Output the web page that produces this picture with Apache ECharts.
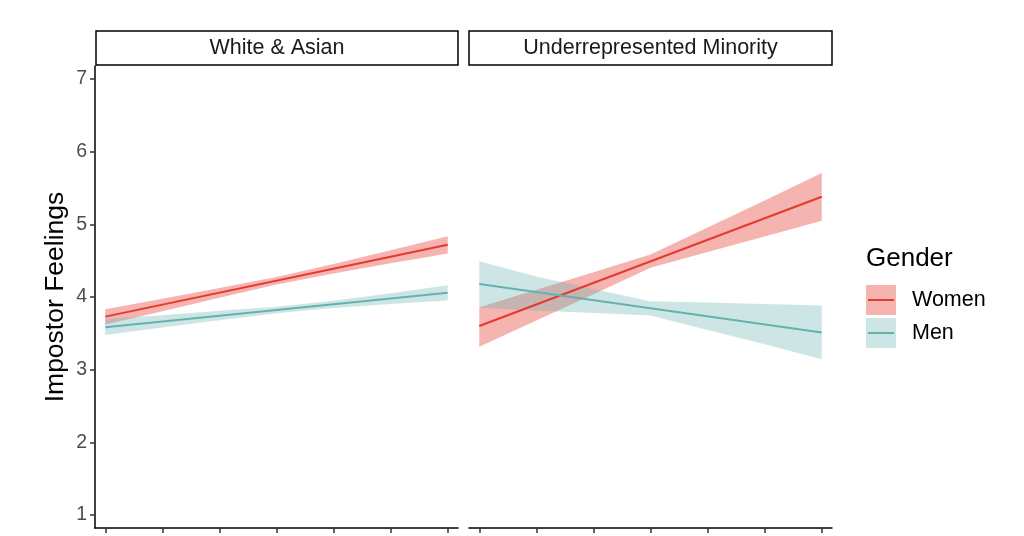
<!DOCTYPE html>
<html>
<head>
<meta charset="utf-8">
<script src="https://cdn.jsdelivr.net/npm/echarts@6/dist/echarts.min.js"></script>
<style>
html,body{margin:0;padding:0;background:#fff;}
#chart{width:1024px;height:536px;}
</style>
</head>
<body>
<div id="chart"></div>
<script>
// ---- data ----
const panels = ['White & Asian', 'Underrepresented Minority'];
const genders = ['Women', 'Men'];
const xTicks = [1, 2, 3, 4, 5, 6, 7];
const yTicks = [1, 2, 3, 4, 5, 6, 7];

// fitted lines (endpoints at x = 1 and x = 7)
const lineX = [1, 7];
const waWomenLine = [3.73, 4.72];
const waMenLine = [3.585, 4.06];
const urmWomenLine = [3.60, 5.38];
const urmMenLine = [4.18, 3.51];

// confidence ribbons at x = 1..7
const waWomenUpper = [3.83, 3.975, 4.125, 4.275, 4.455, 4.645, 4.835];
const waWomenLower = [3.62, 3.805, 3.99, 4.172, 4.325, 4.463, 4.60];
const waMenUpper = [3.70, 3.75, 3.81, 3.865, 3.95, 4.05, 4.162];
const waMenLower = [3.476, 3.58, 3.68, 3.778, 3.85, 3.905, 3.952];
const urmWomenUpper = [3.86, 4.10, 4.34, 4.584, 4.957, 5.33, 5.706];
const urmWomenLower = [3.316, 3.677, 4.039, 4.401, 4.618, 4.834, 5.05];
const urmMenUpper = [4.492, 4.282, 4.11, 3.943, 3.925, 3.904, 3.883];
const urmMenLower = [3.852, 3.815, 3.78, 3.746, 3.547, 3.348, 3.142];

// ---- style ----
const FONT = 'Liberation Sans, Arial, Helvetica, sans-serif';
const womenLine = '#E5392F';
const menLine = '#64B2AF';
const womenFill = 'rgba(232,57,47,0.38)';
const menFill = 'rgba(100,178,175,0.32)';

const chart = echarts.init(document.getElementById('chart'), null, {renderer: 'canvas'});

function ribbon(name, idx, lower, upper, color) {
  return {
    type: 'custom', name: name, xAxisIndex: idx, yAxisIndex: idx,
    silent: true, z: 1, itemStyle: {color: color},
    data: [[xTicks[0], lower[0]]],
    renderItem: function (params, api) {
      const pts = [];
      for (let i = 0; i < xTicks.length; i++) pts.push(api.coord([xTicks[i], upper[i]]));
      for (let i = xTicks.length - 1; i >= 0; i--) pts.push(api.coord([xTicks[i], lower[i]]));
      return {type: 'polygon', shape: {points: pts}, style: {fill: color}};
    }
  };
}
function fit(name, idx, vals, color) {
  return {
    type: 'line', name: name, xAxisIndex: idx, yAxisIndex: idx, z: 3,
    showSymbol: false, silent: true, animation: false,
    data: lineX.map((x, i) => [x, vals[i]]),
    lineStyle: {color: color, width: 2}, itemStyle: {color: color}
  };
}

const axisMin = 0.82, axisMax = 7.18;
function xAx(idx) {
  return {
    type: 'value', gridIndex: idx, min: axisMin, max: axisMax,
    splitLine: {show: false},
    axisLine: {show: true, lineStyle: {color: '#000', width: 1.5}},
    axisTick: {show: true, length: 5, customValues: xTicks, lineStyle: {color: '#333', width: 1.5}},
    axisLabel: {show: false}
  };
}
function yAx(idx, show) {
  return {
    type: 'value', gridIndex: idx, min: axisMin, max: axisMax,
    show: show,
    name: show ? 'Impostor Feelings' : '',
    nameLocation: 'middle', nameGap: 26,
    nameTextStyle: {fontFamily: FONT, fontSize: 26.5, color: '#000'},
    splitLine: {show: false},
    axisLine: {show: show, lineStyle: {color: '#000', width: 1.5}},
    axisTick: {show: show, length: 5, customValues: yTicks, lineStyle: {color: '#333', width: 1.5}},
    axisLabel: {show: show, customValues: yTicks, margin: 8, fontFamily: FONT, fontSize: 19.5, color: '#4D4D4D'}
  };
}

function strip(x1, x2, text) {
  return [
    {type: 'rect', shape: {x: x1, y: 31, width: x2 - x1, height: 34},
     style: {fill: '#fff', stroke: '#000', lineWidth: 1.5}, z: 10},
    {type: 'text', x: (x1 + x2) / 2, y: 48,
     style: {text: text, fontFamily: FONT, fontSize: 21.5, fill: '#1A1A1A', align: 'center', verticalAlign: 'middle'}, z: 11}
  ];
}

const option = {
  animation: false,
  backgroundColor: '#fff',
  grid: [
    {left: 95, top: 66, width: 363, height: 462},
    {left: 469, top: 66, width: 363, height: 462}
  ],
  xAxis: [xAx(0), xAx(1)],
  yAxis: [yAx(0, true), yAx(1, false)],
  legend: {
    orient: 'vertical', left: 866, top: 285, padding: 0,
    itemWidth: 30, itemHeight: 30, itemGap: 3, icon: 'rect',
    selectedMode: false,
    data: [
      {name: genders[0], itemStyle: {color: womenFill}},
      {name: genders[1], itemStyle: {color: menFill}}
    ],
    textStyle: {fontFamily: FONT, fontSize: 21.5, color: '#000', padding: [0, 0, 0, 11]}
  },
  graphic: [].concat(
    strip(96, 458, panels[0]),
    strip(469, 832, panels[1]),
    [
      {type: 'text', x: 866, y: 259,
       style: {text: 'Gender', fontFamily: FONT, fontSize: 26, fill: '#000', verticalAlign: 'middle'}},
      {type: 'line', shape: {x1: 868, y1: 300, x2: 894, y2: 300}, style: {stroke: womenLine, lineWidth: 2}, z: 20},
      {type: 'line', shape: {x1: 868, y1: 333, x2: 894, y2: 333}, style: {stroke: menLine, lineWidth: 2}, z: 20}
    ]
  ),
  series: [
    ribbon(genders[0], 0, waWomenLower, waWomenUpper, womenFill),
    ribbon(genders[1], 0, waMenLower, waMenUpper, menFill),
    ribbon(genders[0], 1, urmWomenLower, urmWomenUpper, womenFill),
    ribbon(genders[1], 1, urmMenLower, urmMenUpper, menFill),
    fit(genders[0], 0, waWomenLine, womenLine),
    fit(genders[1], 0, waMenLine, menLine),
    fit(genders[0], 1, urmWomenLine, womenLine),
    fit(genders[1], 1, urmMenLine, menLine)
  ]
};
chart.setOption(option);
</script>
</body>
</html>
